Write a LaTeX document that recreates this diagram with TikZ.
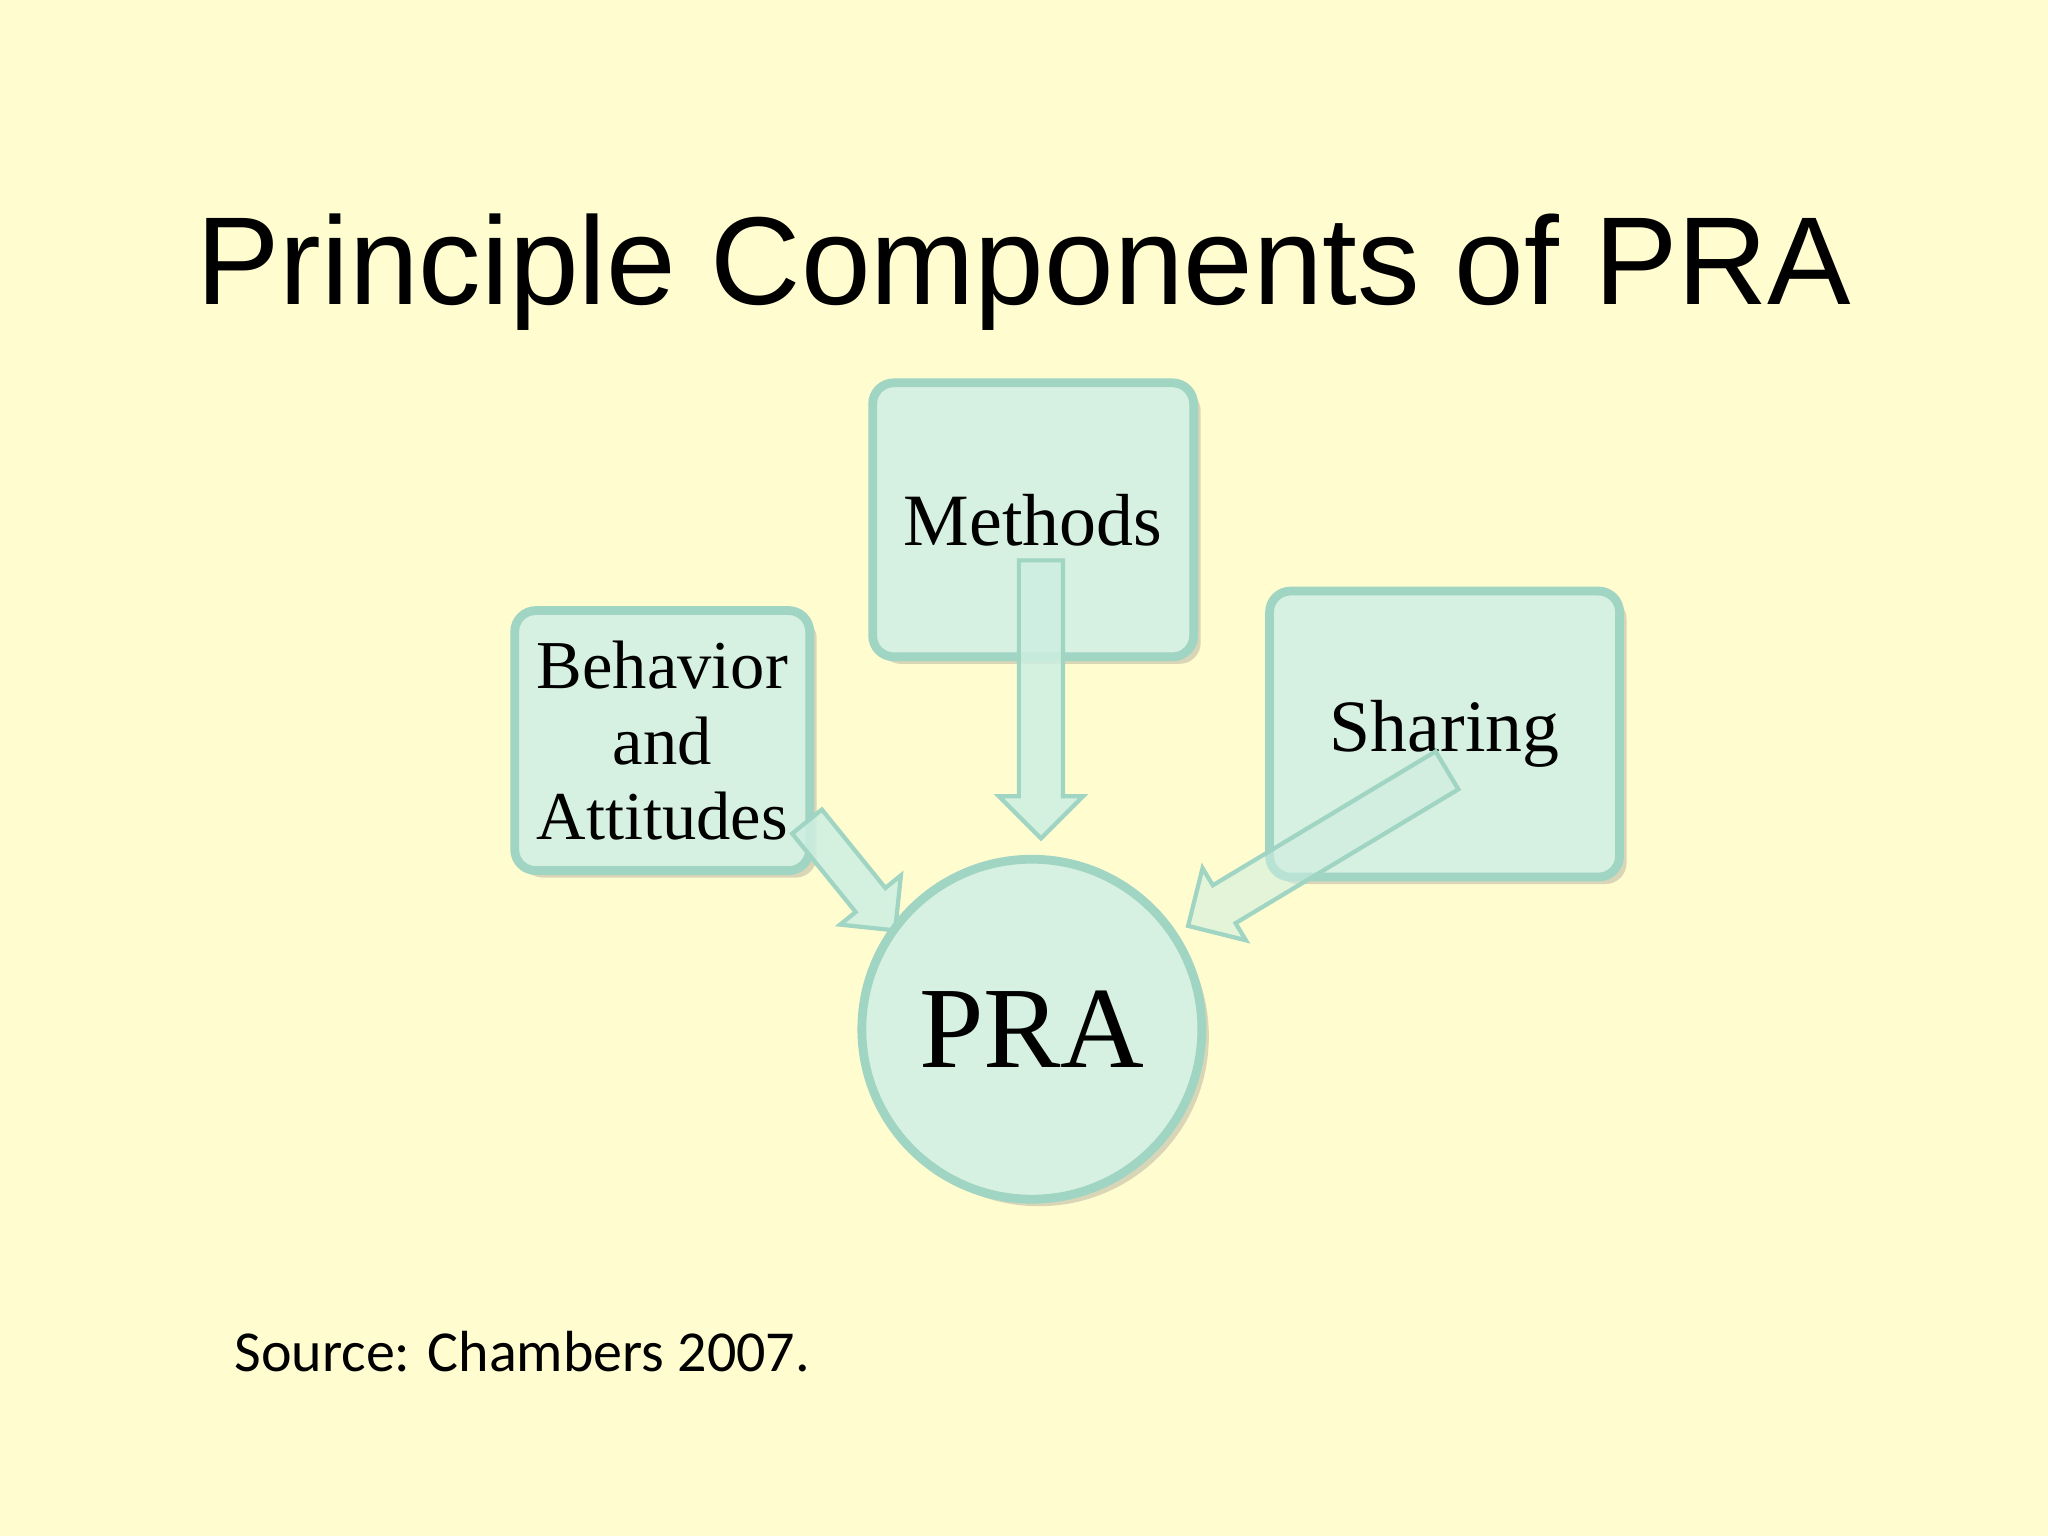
\documentclass[tikz,border=0pt]{standalone}
\usepackage{fontspec}
\setmainfont{Liberation Serif}
\newfontfamily\titlefont{Liberation Sans}
\newfontfamily\srcfont{Carlito}
\usetikzlibrary{shapes.arrows,shadows}
\definecolor{bg}{RGB}{255,252,208}
\definecolor{boxfill}{RGB}{214,240,225}
\definecolor{boxedge}{RGB}{160,212,195}
\definecolor{arrfill}{RGB}{205,238,225}
\tikzset{
  comp/.style={draw=boxedge, line width=2.5pt, fill=boxfill, rounded corners=6pt, align=center, font=\fontsize{21}{24}\selectfont, drop shadow={shadow xshift=2pt,shadow yshift=-2pt,opacity=0.3}},
  blockarrow/.style={single arrow, draw=boxedge, line width=1.2pt, fill=arrfill, fill opacity=0.85, single arrow head extend=0.2cm, inner xsep=0pt, inner ysep=0.2cm, text height=0pt, text depth=0pt, minimum width=0cm}
}
\begin{document}
\begin{tikzpicture}[x=0.01306cm,y=-0.01306cm]
\fill[bg] (0,0) rectangle (1568,1176);
\useasboundingbox (0,0) rectangle (1568,1176);
\node (title) at (784,208) {\titlefont\fontsize{35.6}{40}\selectfont Principle Components of PRA};
\node[comp, minimum width=3.21cm, minimum height=2.74cm] (methods) at (791,398) {Methods};
\node[comp, minimum width=2.95cm, minimum height=2.60cm, font=\fontsize{19.5}{21.5}\selectfont] (behav) at (507,567) {Behavior\\and\\Attitudes};
\node[comp, minimum width=3.50cm, minimum height=2.86cm] (sharing) at (1106,562) {Sharing};
\node[blockarrow, minimum height=2.78cm, rotate=-90] (a1) at (797,527) {};
\node[blockarrow, minimum height=1.40cm, inner ysep=0.17cm, rotate=-51] (a2) at (647,665) {};
\node[comp, circle, minimum size=3.40cm, font=\fontsize{33}{36}\selectfont] (pra) at (790,788) {PRA};
\node[blockarrow, minimum height=3.02cm, rotate=211, fill opacity=0.55] (a3) at (1016,645) {};
\node[anchor=west] (src) at (170,1035) {\srcfont\fontsize{16.5}{18}\selectfont Source: Chambers 2007.};
\end{tikzpicture}
\end{document}
